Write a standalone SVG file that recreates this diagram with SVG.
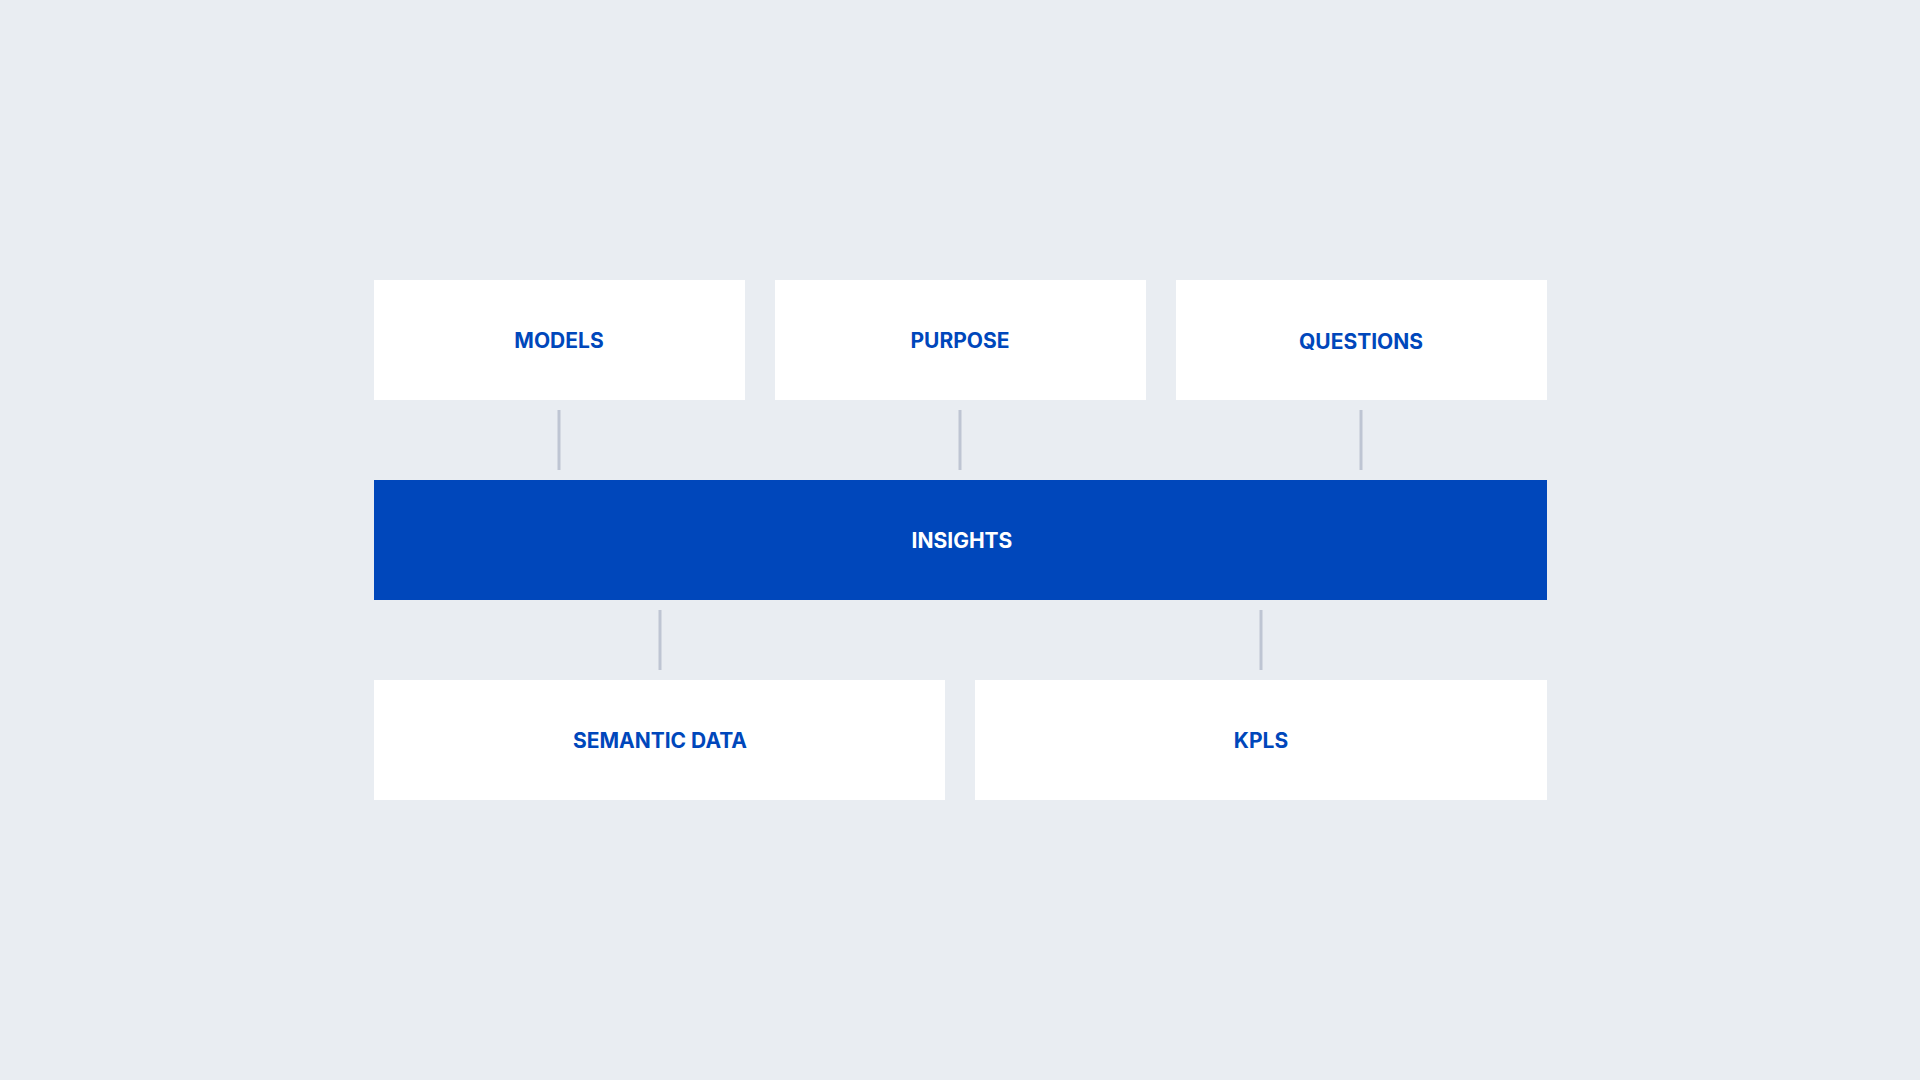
<svg xmlns="http://www.w3.org/2000/svg" width="1920" height="1080" viewBox="0 0 1920 1080">
  <style>
    .box { fill: #ffffff; }
    .hub { fill: #0047bb; }
    .lbl { font-family: Inter, "Liberation Sans", sans-serif; font-size: 21px; font-weight: 700; text-anchor: middle; fill: #0047bb; }
    .lbl-w { fill: #ffffff; }
    .conn { stroke: #bec5d3; stroke-width: 3; fill: none; }
  </style>
  <rect width="1920" height="1080" fill="#e9edf2"/>
  <g id="connectors">
    <line class="conn" x1="559" y1="410" x2="559" y2="470"/>
    <line class="conn" x1="960" y1="410" x2="960" y2="470"/>
    <line class="conn" x1="1361" y1="410" x2="1361" y2="470"/>
    <line class="conn" x1="660" y1="610" x2="660" y2="670"/>
    <line class="conn" x1="1261" y1="610" x2="1261" y2="670"/>
  </g>
  <g id="models">
    <rect class="box" x="374" y="280" width="371" height="120"/>
    <text class="lbl" x="559" y="347.5">MODELS</text>
  </g>
  <g id="purpose">
    <rect class="box" x="775" y="280" width="371" height="120"/>
    <text class="lbl" x="960" y="347.5">PURPOSE</text>
  </g>
  <g id="questions">
    <rect class="box" x="1176" y="280" width="371" height="120"/>
    <text class="lbl" x="1361" y="348.5">QUESTIONS</text>
  </g>
  <g id="insights">
    <rect class="hub" x="374" y="480" width="1173" height="120"/>
    <text class="lbl lbl-w" x="962" y="547.5">INSIGHTS</text>
  </g>
  <g id="semantic-data">
    <rect class="box" x="374" y="680" width="571" height="120"/>
    <text class="lbl" x="660" y="747.5">SEMANTIC DATA</text>
  </g>
  <g id="kpls">
    <rect class="box" x="975" y="680" width="572" height="120"/>
    <text class="lbl" x="1261" y="748">KPLS</text>
  </g>
</svg>
